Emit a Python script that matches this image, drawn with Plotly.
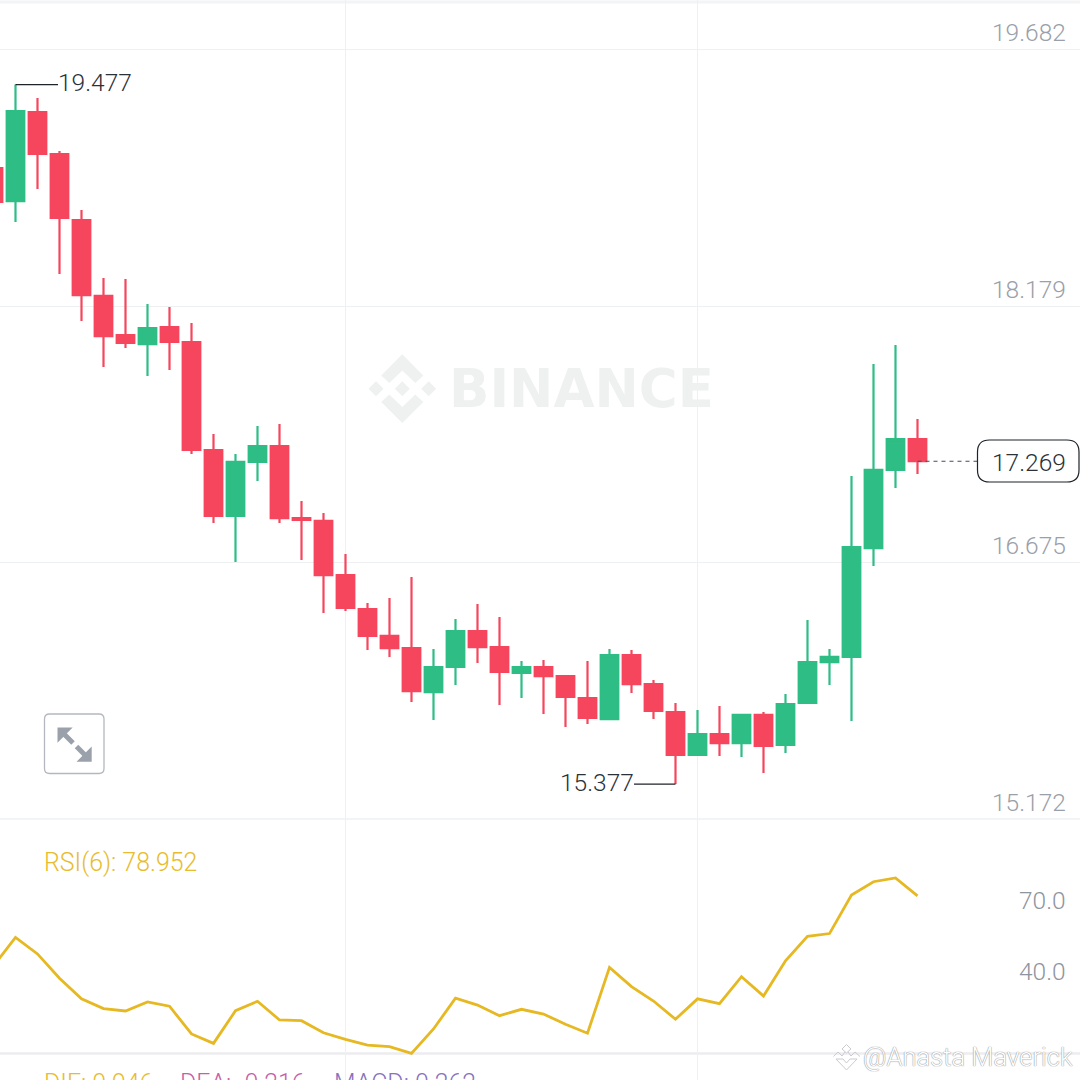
import plotly.graph_objects as go

# ---- data ----
opens = [18.988,18.794,19.316,19.070,18.683,18.238,18.009,17.956,18.056,17.968,17.335,16.948,17.265,17.358,16.936,16.919,16.602,16.403,16.245,16.174,15.916,16.063,16.274,16.180,16.028,16.063,16.010,15.881,15.758,16.133,15.963,15.799,15.547,15.670,15.617,15.782,15.606,15.852,16.092,16.122,16.760,17.218,17.399]
highs = [19.05,19.477,19.398,19.088,18.742,18.343,18.337,18.191,18.173,18.079,17.429,17.311,17.476,17.487,17.036,16.966,16.725,16.438,16.467,16.591,16.168,16.344,16.432,16.356,16.098,16.104,16.010,16.098,16.168,16.163,15.987,15.852,15.811,15.834,15.782,15.799,15.905,16.338,16.168,17.183,17.839,17.950,17.517]
lows = [18.72,18.671,18.865,18.367,18.091,17.821,17.933,17.769,17.804,17.311,16.907,16.678,17.153,16.907,16.690,16.379,16.391,16.163,16.122,15.858,15.752,15.957,16.086,15.840,15.881,15.787,15.711,15.729,15.752,15.911,15.758,15.377,15.547,15.541,15.535,15.442,15.559,15.852,15.957,15.746,16.655,17.112,17.194]
closes = [18.789,19.322,19.070,18.695,18.243,18.003,17.962,18.050,17.968,17.335,16.948,17.265,17.358,16.936,16.925,16.602,16.409,16.245,16.174,15.922,16.063,16.274,16.180,16.034,16.063,16.010,15.887,15.764,16.133,15.963,15.805,15.547,15.670,15.617,15.782,15.600,15.846,16.092,16.122,16.766,17.218,17.399,17.269]
rsi = [49.3,61.4,54.4,44.1,35.4,31.3,30.3,34.1,32.3,20.6,16.6,30.4,34.4,26.5,26.2,21.1,18.3,15.9,15.2,12.4,22.7,35.7,32.8,28.3,31.0,29.0,24.7,20.9,48.7,40.6,34.5,26.8,35.4,33.4,44.8,36.6,51.5,61.8,63.0,79.3,84.9,86.5,78.952]
price_ticks = [19.682, 18.179, 16.675, 15.172]
price_labels = ["19.682", "18.179", "16.675", "15.172"]
rsi_ticks = [70.0, 40.0]
rsi_labels = ["70.0", "40.0"]
high_value, high_text = 19.477, "19.477"
low_value, low_text = 15.377, "15.377"
last_value, last_text = 17.269, "17.269"
indicator_texts = [("RSI(6): 78.952", "#E8BC2E", 44, 862),
                   ("DIF: 0.946", "#E8BC2E", 44, 1083),
                   ("DEA: -0.216", "#C75FA8", 180, 1083),
                   ("MACD: 0.262", "#8A72BE", 334, 1083)]
xs = list(range(len(closes)))

GREEN, RED = "#2EBD85", "#F6465D"
GRID = "#EFF0F2"
FONT = "Roboto"
S = 1080.0
def px(v): return v / S
def py(v): return 1 - v / S
def X(p): return (p + 6.5) / 22.0   # pixel column to candle-index axis value

def poly(points, close=True):
    s = "M " + " L ".join(f"{px(a):.5f},{py(b):.5f}" for a, b in points)
    return s + (" Z" if close else "")

def rrect(x0, y0, x1, y1, r):
    c = lambda a, b: f"{px(a):.5f},{py(b):.5f}"
    return (f"M {c(x0+r,y0)} L {c(x1-r,y0)} Q {c(x1,y0)} {c(x1,y0+r)} L {c(x1,y1-r)} Q {c(x1,y1)} {c(x1-r,y1)} "
            f"L {c(x0+r,y1)} Q {c(x0,y1)} {c(x0,y1-r)} L {c(x0,y0+r)} Q {c(x0,y0)} {c(x0+r,y0)} Z")

fig = go.Figure()
fig.add_trace(go.Candlestick(
    x=xs, open=opens, high=highs, low=lows, close=closes, whiskerwidth=0,
    increasing=dict(line=dict(color=GREEN, width=2.2), fillcolor=GREEN),
    decreasing=dict(line=dict(color=RED, width=2.2), fillcolor=RED),
    xaxis="x", yaxis="y", showlegend=False))
fig.add_trace(go.Scatter(x=xs, y=rsi, mode="lines", line=dict(color="#E6B821", width=2.8),
                         xaxis="x2", yaxis="y2", showlegend=False))

shapes = []
def paper_path(path, fill="rgba(0,0,0,0)", line=None, width=0, layer="below"):
    shapes.append(dict(type="path", xref="paper", yref="paper", path=path, fillcolor=fill,
                       line=dict(color=line or "rgba(0,0,0,0)", width=width), layer=layer))

# frame lines
shapes.append(dict(type="line", xref="paper", yref="paper", x0=0, x1=1, y0=py(2), y1=py(2),
                   line=dict(color="#F3F4F5", width=3), layer="below"))
shapes.append(dict(type="line", xref="paper", yref="paper", x0=0, x1=1, y0=py(819), y1=py(819),
                   line=dict(color=GRID, width=1.3), layer="below"))
shapes.append(dict(type="line", xref="paper", yref="paper", x0=0, x1=1, y0=py(1053.5), y1=py(1053.5),
                   line=dict(color="#ECEDF1", width=2.5), layer="below"))

# Binance logo watermark
WM = "#EFF1F1"
cy = 388.7
for cx_ in (402.3, 376.0, 428.7):
    paper_path(poly([(cx_, cy-7.5), (cx_+7.5, cy), (cx_, cy+7.5), (cx_-7.5, cy)]), fill=WM)
upper = [(402.3,354.3),(423.3,375.5),(415.3,383),(402.3,370.5),(389.3,383),(381.3,375.5)]
paper_path(poly(upper), fill=WM)
paper_path(poly([(a, 2*cy-b) for a, b in upper]), fill=WM)

# expand button
paper_path(rrect(44.5, 714, 104, 773.5, 5), fill="white", line="#B4B8BE", width=1.3, layer="above")
ICON = "#9BA1AA"
paper_path(poly([(57.5,727.5),(72.7,727.5),(57.5,742.7)]), fill=ICON, layer="above")
paper_path(poly([(91.7,761.7),(76.5,761.7),(91.7,746.5)]), fill=ICON, layer="above")
paper_path(poly([(63,733),(73,743)], close=False), line=ICON, width=5, layer="above")
paper_path(poly([(86,756),(76.5,746.5)], close=False), line=ICON, width=5, layer="above")

# high / low leaders
shapes.append(dict(type="line", xref="x", yref="y", x0=xs[1], x1=X(58), y0=high_value, y1=high_value,
                   line=dict(color="#1E2329", width=1.2), layer="above"))
shapes.append(dict(type="line", xref="x", yref="y", x0=X(634), x1=xs[31], y0=low_value, y1=low_value,
                   line=dict(color="#1E2329", width=1.2), layer="above"))
# last price
shapes.append(dict(type="line", xref="x", yref="y", x0=xs[-1], x1=X(978), y0=last_value, y1=last_value,
                   line=dict(color="#474D57", width=1.2, dash="4px,4px"), layer="above"))
paper_path(rrect(977.5, 440, 1079, 482, 12), fill="white", line="#1E2329", width=1.2, layer="above")

# bottom watermark logo
WL = "#C9CBD0"
paper_path(poly([(833.5,1056.5),(838,1052),(842,1056),(846.5,1050),(851,1056),(855,1052),(860,1056.5)], close=False),
           line=WL, width=1)
paper_path(poly([(836,1059),(846.5,1070),(857,1059),(850,1059),(846.5,1063),(843,1059)]), line=WL, width=1, fill="white")
paper_path(poly([(846.5,1044.5),(851,1049),(846.5,1053),(842,1049)]), line=WL, width=1, fill="white")

ann = []
def text(t, x, y, color, size=24.5, anchor="left", weight=400, font=FONT, yref="paper", xref="paper",
         yanchor="middle", shadow=None, yshift=0):
    f = dict(family=font, size=size, color=color, weight=weight)
    if shadow:
        f["shadow"] = shadow
    ann.append(dict(text=t, x=x, y=y, xref=xref, yref=yref, xanchor=anchor, yanchor=yanchor, yshift=yshift,
                    showarrow=False, font=f, borderpad=0, borderwidth=0))

text("BINANCE", px(448.5), py(388.5), WM, size=53, weight=700, font="DejaVu Sans")
for v, l in zip(price_ticks, price_labels):
    ann.append(dict(text=l, x=px(1067), y=v, xref="paper", yref="y", xanchor="right", yanchor="bottom", yshift=1.5,
                    showarrow=False, font=dict(family=FONT, size=24.5, color="#9AA0A9", weight=300), borderpad=0))
for v, l in zip(rsi_ticks, rsi_labels):
    ann.append(dict(text=l, x=px(1067), y=v, xref="paper", yref="y2", xanchor="right", yanchor="bottom", yshift=1,
                    showarrow=False, font=dict(family=FONT, size=24.5, color="#8F95A0", weight=300), borderpad=0))
text(high_text, X(57.5), high_value, "#2B3139", xref="x", yref="y", weight=300, yshift=2)
text(low_text, X(634), low_value, "#2B3139", xref="x", yref="y", anchor="right", weight=300, yshift=2)
text(last_text, px(1028.5), py(462.5), "#2B3139", anchor="center", weight=300)
for t, c, x, y in indicator_texts:
    text(t, px(x), py(y), c, size=24.9, weight=300)
text("@Anasta Maverick", px(862.5), py(1057), "#FFFFFF", size=25.6, weight=300,
     shadow="0 0 1px #8a8d94, 0 0 1px #8a8d94")

xrange_ = [X(0), X(1080)]
fig.update_layout(
    width=1080, height=1080, margin=dict(l=0, r=0, t=0, b=0, pad=0), autosize=False,
    paper_bgcolor="white", plot_bgcolor="white", showlegend=False, boxgap=0.2, boxgroupgap=0,
    hovermode=False, dragmode=False, shapes=shapes, annotations=ann,
    xaxis=dict(domain=[0, 1], range=xrange_, anchor="y", tickvals=[16, 32], showticklabels=False,
               showgrid=True, gridcolor=GRID, gridwidth=1.2, zeroline=False, rangeslider=dict(visible=False),
               ticks="", showline=False),
    xaxis2=dict(domain=[0, 1], range=xrange_, anchor="y2", tickvals=[16, 32], showticklabels=False,
                showgrid=True, gridcolor=GRID, gridwidth=1.2, zeroline=False, ticks="", showline=False),
    yaxis=dict(domain=[1 - 819 / S, 1], range=[price_ticks[-1], 15.172 + 819 * 0.0058616], anchor="x",
               tickvals=price_ticks, showticklabels=False, showgrid=True, gridcolor=GRID, gridwidth=1.2,
               zeroline=False, ticks="", showline=False),
    yaxis2=dict(domain=[0, 1 - 819 / S], range=[70 + (917 - 1080) * 0.4225, 70 + (917 - 819) * 0.4225], anchor="x2",
                tickvals=[], showticklabels=False, showgrid=False, zeroline=False, ticks="", showline=False),
)
fig.write_html("out.html", config={"displayModeBar": False},
               post_script="document.body.style.margin='0';document.documentElement.style.overflow='hidden';")
